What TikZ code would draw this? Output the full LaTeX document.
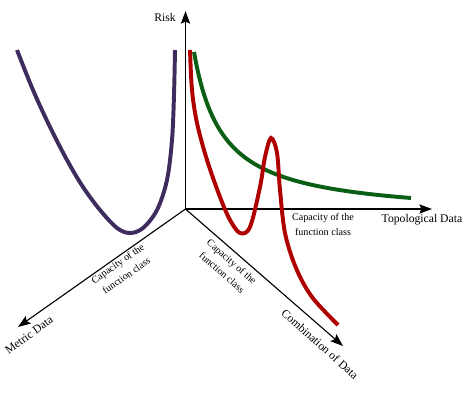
\documentclass[tikz,border=0pt]{standalone}
\usepackage{fontspec}
\setmainfont{Liberation Serif}
\usepackage{tikz}
\usetikzlibrary{arrows.meta,positioning}
\definecolor{riskPurple}{RGB}{62, 44, 94}
\definecolor{riskRed}   {RGB}{175, 0, 0}
\definecolor{riskGreen} {RGB}{10, 95, 20}

\begin{document}
\begin{tikzpicture}[x=0.025cm,y=-0.025cm,
          axisline/.style={-{Stealth[length=9pt,width=6.5pt,inset=1.5pt]},line width=0.8pt},
          axno/.style={font=\fontsize{8.3}{10}\selectfont,inner sep=0pt},
          capno/.style={font=\fontsize{7.2}{10.5}\selectfont,align=center,inner sep=0pt},
          curve/.style={line width=2.8pt,smooth,tension=0.55},
        ]
        \useasboundingbox (0,0) rectangle (474,404);
        % AXES
        \coordinate (O)     at (185.5,209);
        \coordinate (risk)  at (185.5,11);
        \coordinate (topo)  at (432,209);
        \coordinate (metr)  at (18,327);
        \coordinate (comb)  at (343,346);
        \draw[axisline](O)--(risk);
        \draw[axisline](O)--(topo);
        \draw[axisline](O)--(metr);
        \draw[axisline](O)--(comb);
        \node[axno](riskLab) at (165,18){Risk};
        \node[axno](topoLab) at (422,220){Topological Data};
        \node[axno,rotate=36](metrLab) at (29,335){Metric Data};
        \node[axno,rotate=-42](combLab) at (320,344){Combination of Data};

        % CAPACITY LABELS
        \node[capno](capTopo) at (323,224.5){Capacity of the\\function class};
        \node[capno,rotate=35](capMetr) at (122,269.5){Capacity of the\\function class};
        \node[capno,rotate=-41](capComb) at (227,267){Capacity of the\\function class};

        % RISK CURVES
        \draw[curve,riskPurple] plot coordinates {(17,50) (33,90) (50,127) (67,160)
              (83,187) (100,210) (117,228) (130,233) (143,228) (157,210) (167,180)
              (172,140) (174,95) (175,50)};
        \draw[curve,riskGreen] plot[domain=194:411,samples=80] (\x,{217.5-4800/(\x-165)});
        \draw[curve,riskRed] plot coordinates {(190,50) (192,90) (197,123) (207,160)
              (220,197) (230,220) (240,233) (250,227) (260,187) (265,157) (271,138)
              (277,153) (280,190) (285,233) (296,268) (312,297) (338,325)};
      \end{tikzpicture}
\end{document}
